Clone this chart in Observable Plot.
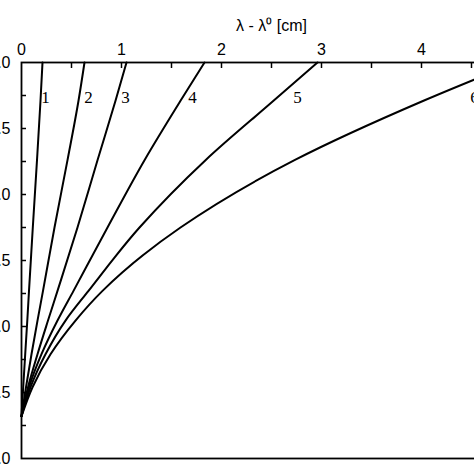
<!DOCTYPE html>
<html>
<head>
<meta charset="utf-8">
<script src="https://cdn.jsdelivr.net/npm/d3@7"></script>
<script src="https://cdn.jsdelivr.net/npm/@observablehq/plot@0.6"></script>
<style>
html, body { margin: 0; padding: 0; background: #fff; overflow: hidden; width: 474px; height: 474px; }
#chart { position: absolute; left: -29px; top: 0; width: 570px; }
#chart svg { max-width: none !important; }
</style>
</head>
<body>
<div id="chart"></div>
<script>
// Sampled depth values (vertical axis, 0 at top)
const depth = [0, 0.29, 0.74, 1.25, 1.73, 1.955, 2.21, 2.46, 2.68];
// Horizontal value λ - λ0 [cm] for each curve at the depths above
const curve1 = [0.21, 0.19, 0.155, 0.113, 0.075, 0.058, 0.037, 0.017, 0];
const curve2 = [0.63, 0.57, 0.46, 0.33, 0.215, 0.16, 0.1, 0.045, 0];
const curve3 = [1.05, 0.94, 0.76, 0.56, 0.36, 0.265, 0.16, 0.065, 0];
const curve4 = [1.83, 1.59, 1.23, 0.86, 0.52, 0.36, 0.2, 0.075, 0];
const curve5 = [2.96, 2.52, 1.84, 1.18, 0.67, 0.44, 0.24, 0.09, 0];
const curve6 = [4.95, 4.02, 2.73, 1.59, 0.81, 0.54, 0.29, 0.11, 0];
const curveIds = ["1", "2", "3", "4", "5", "6"];
// Curve label placement (data units)
const labelX = [0.24, 0.67, 1.04, 1.71, 2.76, 4.53];
const labelY = [0.265, 0.265, 0.265, 0.265, 0.265, 0.265];
// Axis ticks
const xLabelTicks = [0, 1, 2, 3, 4, 5];
const xAllTicks = [0.5, 1, 1.5, 2, 2.5, 3, 3.5, 4, 4.5];
const yLabelTicks = [0, 0.5, 1, 1.5, 2, 2.5, 3];
const yAllTicks = [0.25, 0.5, 0.75, 1, 1.25, 1.5, 1.75, 2, 2.25, 2.5, 2.75];
const xTitle = "λ - λ⁰ [cm]";

const series = [curve1, curve2, curve3, curve4, curve5, curve6];
const rows = [];
series.forEach((vals, i) => vals.forEach((v, j) => rows.push({id: curveIds[i], x: v, y: depth[j]})));
const labels = curveIds.map((id, i) => ({id, x: labelX[i], y: labelY[i]}));

const sans = "'Liberation Sans', Arial, Helvetica, sans-serif";
const chart = Plot.plot({
  width: 570,
  height: 474,
  marginLeft: 50,
  marginRight: 20,
  marginTop: 62,
  marginBottom: 16,
  style: {background: "#fff", color: "#000", fontFamily: sans, fontSize: "16px", maxWidth: "none"},
  x: {domain: [0, 5]},
  y: {domain: [0, 3], reverse: true},
  marks: [
    Plot.line(rows, {x: "x", y: "y", z: "id", stroke: "#000", strokeWidth: 2, curve: "monotone-y"}),
    Plot.text(labels, {x: "x", y: "y", text: "id", fontFamily: "'Liberation Serif', 'Times New Roman', serif", fontSize: 17, fill: "#000"}),
    Plot.axisX(xLabelTicks, {anchor: "top", tickSize: 0, tickPadding: 8, label: null, fontSize: 16}),
    Plot.axisX(xAllTicks, {anchor: "top", tickSize: -5, text: null, label: null, strokeWidth: 1.5}),
    Plot.axisY(yLabelTicks, {anchor: "left", tickSize: 0, tickPadding: 11, label: null, tickFormat: d3.format(".1f"), fontSize: 16}),
    Plot.axisY(yAllTicks, {anchor: "left", tickSize: -5, text: null, label: null, strokeWidth: 1.5}),
    Plot.frame({stroke: "#000", strokeWidth: 1.8}),
    Plot.text([xTitle], {frameAnchor: "top", dy: -43, fontSize: 16, fill: "#000"})
  ]
});
document.getElementById("chart").appendChild(chart);
</script>
</body>
</html>
